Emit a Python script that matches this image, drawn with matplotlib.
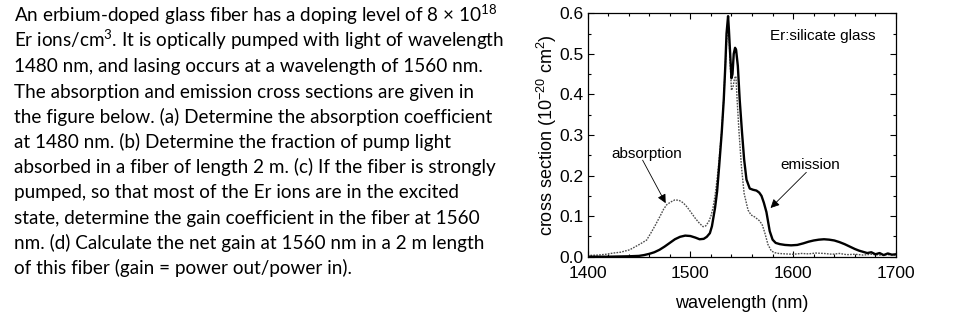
import matplotlib
matplotlib.use("Agg")
import matplotlib.pyplot as plt
from matplotlib.ticker import MultipleLocator, FormatStrFormatter

# ------------------------------------------- #
#  Data         #
# ------------------------------------------- #
# emission cross section (solid line), 1e-20 cm^2
em_wl = [1400, 1420, 1440, 1450, 1455, 1460, 1465, 1470, 1475, 1480, 1485, 1490,
         1495, 1500, 1505, 1509, 1513, 1516, 1519, 1521, 1524, 1526, 1528, 1530.5,
         1532.5, 1534, 1535.2, 1536.7, 1537.5, 1538.5, 1540, 1541, 1542.2, 1543.5,
         1544.5, 1546.2, 1548, 1550.3, 1552.3, 1554.6, 1557.8, 1561, 1564.3, 1567,
         1569.2, 1571.5, 1574, 1577.2, 1580, 1583, 1587, 1592, 1598, 1604, 1610,
         1615, 1620, 1625, 1630, 1635, 1640, 1645, 1650, 1655, 1660, 1664, 1668,
         1672, 1676, 1680, 1684, 1688, 1692, 1696, 1700]
em_cs = [0.0, 0.0, 0.001, 0.002, 0.004, 0.007, 0.011, 0.017, 0.025, 0.034, 0.043, 0.049,
         0.052, 0.051, 0.047, 0.043, 0.044, 0.049, 0.058, 0.075, 0.12, 0.16, 0.222, 0.305,
         0.387, 0.47, 0.55, 0.593, 0.56, 0.511, 0.44, 0.45, 0.5, 0.515,
         0.51, 0.47, 0.387, 0.305, 0.24, 0.19, 0.168, 0.165, 0.163, 0.158,
         0.15, 0.133, 0.11, 0.063, 0.042, 0.034, 0.031, 0.029, 0.028, 0.029, 0.033,
         0.037, 0.040, 0.042, 0.043, 0.042, 0.040, 0.036, 0.031, 0.025, 0.019, 0.015, 0.012,
         0.009, 0.011, 0.006, 0.009, 0.004, 0.008, 0.005, 0.006]

# absorption cross section (dotted line), 1e-20 cm^2
ab_wl = [1400, 1410, 1418, 1425, 1432, 1441, 1446, 1451, 1457.5, 1462, 1466, 1470.4,
         1474, 1477, 1481, 1485, 1489, 1493, 1497, 1501, 1505, 1509, 1512.4, 1515,
         1518, 1520, 1522, 1524, 1526, 1528, 1530.5, 1532.5, 1534, 1535.3, 1536.5,
         1537.5, 1538.5, 1540, 1541.6, 1543, 1544.3, 1545.5, 1547.4, 1549.7, 1552.3,
         1556.1, 1559, 1562.6, 1567.5, 1570, 1572.3, 1575.5, 1578.8, 1582, 1586,
         1592, 1600, 1608, 1615, 1622, 1630, 1638, 1645, 1652, 1660, 1668, 1676,
         1684, 1692, 1700]
ab_cs = [0.003, 0.004, 0.006, 0.009, 0.011, 0.017, 0.024, 0.031, 0.041, 0.06, 0.078, 0.099,
         0.117, 0.128, 0.135, 0.14, 0.139, 0.133, 0.122, 0.108, 0.094, 0.082, 0.074, 0.076,
         0.087, 0.10, 0.12, 0.15, 0.19, 0.24, 0.31, 0.39, 0.47, 0.53, 0.565,
         0.55, 0.49, 0.41, 0.42, 0.44, 0.445, 0.387, 0.305, 0.222, 0.156,
         0.115, 0.103, 0.098, 0.088, 0.078, 0.06, 0.03, 0.014, 0.01, 0.008,
         0.007, 0.006, 0.008, 0.007, 0.009, 0.008, 0.006, 0.008, 0.005, 0.006, 0.004, 0.006,
         0.004, 0.005, 0.004]

x_ticks = [1400, 1500, 1600, 1700]
y_ticks = [0.0, 0.1, 0.2, 0.3, 0.4, 0.5, 0.6]

problem_lines = [
    "An erbium-doped glass fiber has a doping level of 8 \u00d7 10$^{18}$",
    "Er ions/cm$^{3}$. It is optically pumped with light of wavelength",
    "1480 nm, and lasing occurs at a wavelength of 1560 nm.",
    "The absorption and emission cross sections are given in",
    "the figure below. (a) Determine the absorption coefficient",
    "at 1480 nm. (b) Determine the fraction of pump light",
    "absorbed in a fiber of length 2 m. (c) If the fiber is strongly",
    "pumped, so that most of the Er ions are in the excited",
    "state, determine the gain coefficient in the fiber at 1560",
    "nm. (d) Calculate the net gain at 1560 nm in a 2 m length",
    "of this fiber (gain = power out/power in).",
]

# ------------------------------------------- #
#  Figure                                     #
# ------------------------------------------- #
plt.rcParams['mathtext.default'] = 'regular'
W, H = 961, 327
fig = plt.figure(figsize=(W / 100, H / 100), dpi=100)

# problem text on the left, one line at a time
for i, line in enumerate(problem_lines):
    baseline = 22 + 25.2 * i
    fig.text(14 / W, 1 - baseline / H, line, family='Lato', fontsize=13.6,
             va='baseline', ha='left', color='black')

# the chart on the right
ax = fig.add_axes([587.5 / W, (H - 256.7) / H, 308.5 / W, 243.4 / H])
ax.plot(ab_wl, ab_cs, color='0.3', lw=1.0, ls=(0, (1.2, 0.9)))
ax.plot(em_wl, em_cs, color='black', lw=1.7)

ax.set_xlim(1400, 1700)
ax.set_ylim(0.0, 0.6)
ax.set_xticks(x_ticks)
ax.set_yticks(y_ticks)
ax.xaxis.set_minor_locator(MultipleLocator(20))
ax.yaxis.set_minor_locator(MultipleLocator(0.05))
ax.yaxis.set_major_formatter(FormatStrFormatter('%.1f'))
ax.tick_params(which='both', direction='in', top=True, right=True, width=0.8,
               labelsize=12.5)
ax.tick_params(axis='x', which='major', pad=6.5)
ax.tick_params(axis='y', which='major', pad=3)
ax.tick_params(which='major', length=4)
ax.tick_params(which='minor', length=2.5)
for s in ax.spines.values():
    s.set_linewidth(0.9)
for lab in ax.get_xticklabels() + ax.get_yticklabels():
    lab.set_family('Liberation Sans')

ax.set_xlabel('wavelength (nm)', family='Liberation Sans', fontsize=13, labelpad=10)
ax.set_ylabel('cross section (10$^{-20}$ cm$^{2}$)', family='Liberation Sans',
              fontsize=13, labelpad=0)

ax.text(0.763, 0.908, 'Er:silicate glass', transform=ax.transAxes, ha='center',
        va='center', family='Liberation Sans', fontsize=11)

# labels with arrows
arrow = dict(arrowstyle='-|>', color='black', lw=0.6, mutation_scale=13,
             shrinkA=0, shrinkB=0)
ax.text(1457.5, 0.254, 'absorption', ha='center', va='center',
        family='Liberation Sans', fontsize=11)
ax.annotate('', xy=(1476, 0.132), xytext=(1453.6, 0.238), arrowprops=arrow)
ax.text(1617, 0.225, 'emission', ha='center', va='center',
        family='Liberation Sans', fontsize=11)
ax.annotate('', xy=(1578, 0.12), xytext=(1612.8, 0.208), arrowprops=arrow)

fig.savefig('out.png', dpi=100)
